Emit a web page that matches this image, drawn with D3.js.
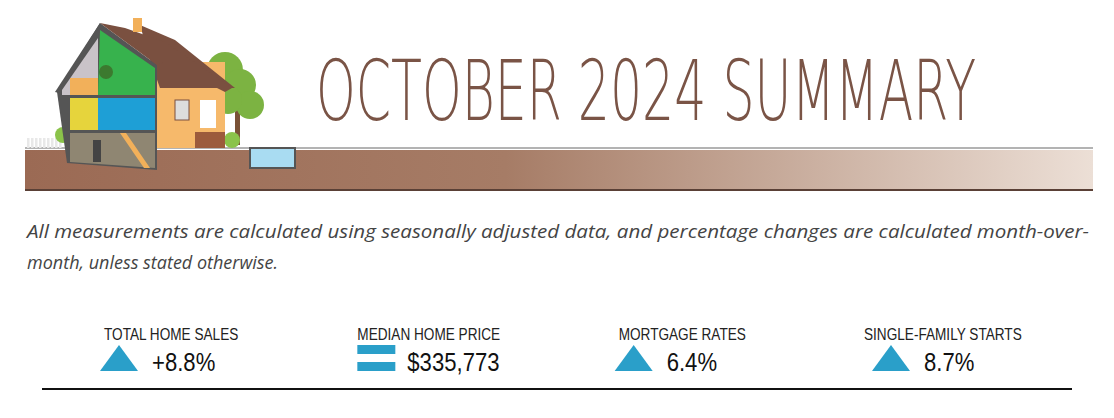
<!DOCTYPE html>
<html><head><meta charset="utf-8">
<script src="https://cdn.jsdelivr.net/npm/d3@7"></script>
<style>body{margin:0;background:#fff}</style>
</head><body><div id="chart"></div>
<script>
// summary values
var title = "OCTOBER 2024 SUMMARY";
var note = ["All measurements are calculated using seasonally adjusted data, and percentage changes are calculated month-over-",
            "month, unless stated otherwise."];
var labels = ["TOTAL HOME SALES", "MEDIAN HOME PRICE", "MORTGAGE RATES", "SINGLE-FAMILY STARTS"];
var values = ["+8.8%", "$335,773", "6.4%", "8.7%"];
var trend = ["up", "flat", "up", "up"];

var width = 1114, height = 418;
var svg = d3.select("#chart").append("svg").attr("width", width).attr("height", height);

// banner band
var grad = svg.append("defs").append("linearGradient").attr("id", "band");
grad.append("stop").attr("offset", "0%").attr("stop-color", "#9b6a54");
grad.append("stop").attr("offset", "45%").attr("stop-color", "#a67c66");
grad.append("stop").attr("offset", "100%").attr("stop-color", "#ecdfd6");
svg.append("rect").attr("x", 25).attr("y", 150).attr("width", 1068).attr("height", 40).attr("fill", "url(#band)");
svg.append("line").attr("x1", 25).attr("x2", 1093).attr("y1", 148).attr("y2", 148).attr("stroke", "#9a9a9a").attr("stroke-width", 1.5);
svg.append("line").attr("x1", 25).attr("x2", 1093).attr("y1", 190).attr("y2", 190).attr("stroke", "#5a4036").attr("stroke-width", 2);

// house illustration (rough)
var h = svg.append("g");
function poly(pts, fill) { h.append("polygon").attr("points", pts).attr("fill", fill); }
// tree
h.append("rect").attr("x", 235).attr("y", 90).attr("width", 5).attr("height", 55).attr("fill", "#7a5236");
[[225, 70, 18], [240, 85, 16], [250, 105, 14], [228, 100, 14], [218, 88, 12]].forEach(function(c) {
  h.append("circle").attr("cx", c[0]).attr("cy", c[1]).attr("r", c[2]).attr("fill", "#7cb342");
});
// fence + bushes
for (var i = 0; i < 9; i++) h.append("rect").attr("x", 27 + i * 4).attr("y", 138).attr("width", 2.5).attr("height", 10).attr("fill", "#e8e8e8");
h.append("circle").attr("cx", 63).attr("cy", 135).attr("r", 8).attr("fill", "#8bc34a");
h.append("circle").attr("cx", 232).attr("cy", 140).attr("r", 8).attr("fill", "#8bc34a");
// right wing
poly("155,62 225,62 225,148 155,148", "#f6b96b");
poly("140,25 175,40 235,88 160,88 150,60", "#7a5040");
h.append("rect").attr("x", 175).attr("y", 100).attr("width", 14).attr("height", 20).attr("fill", "#ddd").attr("stroke", "#7a5040");
h.append("rect").attr("x", 200).attr("y", 100).attr("width", 16).attr("height", 28).attr("fill", "#fff");
h.append("rect").attr("x", 195).attr("y", 132).attr("width", 30).attr("height", 16).attr("fill", "#9c5b3c");
// cutaway
poly("100,23 157,65 157,170 67,163 57,92", "#555");
poly("100,30 155,68 155,95 98,95", "#37b24d");
poly("62,90 98,38 98,95 62,95", "#c9c3c8");
h.append("rect").attr("x", 70).attr("y", 78).attr("width", 28).attr("height", 17).attr("fill", "#f2b05a");
h.append("rect").attr("x", 70).attr("y", 98).attr("width", 28).attr("height", 32).attr("fill", "#e6d43c");
h.append("rect").attr("x", 98).attr("y", 98).attr("width", 57).attr("height", 32).attr("fill", "#1e9fd6");
poly("70,133 155,133 155,168 70,162", "#8f8672");
poly("120,133 126,133 150,168 144,168", "#f2b05a");
h.append("rect").attr("x", 93).attr("y", 140).attr("width", 8).attr("height", 22).attr("fill", "#444");
h.append("circle").attr("cx", 106).attr("cy", 72).attr("r", 7).attr("fill", "#3c7a2f");
// main roof
poly("100,23 125,28 165,42 232,88 225,92 165,62 157,65", "#7a5040");
poly("100,23 55,92 59,93 100,32", "#555");
h.append("rect").attr("x", 133).attr("y", 18).attr("width", 9).attr("height", 14).attr("fill", "#f2b05a");
// pond
h.append("rect").attr("x", 250).attr("y", 148).attr("width", 45).attr("height", 20).attr("fill", "#a9dcf2").attr("stroke", "#555").attr("stroke-width", 2);

// title
svg.append("text").attr("x", 316).attr("y", 120).attr("textLength", 660).attr("lengthAdjust", "spacingAndGlyphs")
  .attr("font-family", "DejaVu Sans").attr("font-weight", 200).attr("font-size", 84).attr("fill", "#7a5446")
  .style("font-stretch", "condensed").text(title);

// note
svg.selectAll("text.note").data(note).join("text").attr("class", "note")
  .attr("x", 27).attr("y", function(d, i) { return 238 + i * 31; })
  .attr("font-family", "Open Sans").attr("font-style", "italic").attr("font-size", 18).attr("fill", "#444")
  .text(function(d) { return d; })
  .each(function(d, i) { if (i == 0) d3.select(this).attr("textLength", 1062).attr("lengthAdjust", "spacingAndGlyphs"); });

// KPI row
var x = d3.scalePoint().domain(labels).range([100, 872]);
var k = svg.selectAll("g.kpi").data(labels).join("g").attr("class", "kpi")
  .attr("transform", function(d) { return "translate(" + x(d) + ",0)"; });
k.append("text").attr("x", function(d, i) { return i == 1 ? 0 : i == 3 ? -8 : 4; }).attr("y", 340)
  .attr("font-family", "Liberation Sans Narrow, Liberation Sans").attr("font-size", 17).attr("fill", "#222")
  .text(function(d) { return d; })
  .each(function(d) { d3.select(this).attr("textLength", this.getComputedTextLength() * 0.8).attr("lengthAdjust", "spacingAndGlyphs"); });
k.each(function(d, i) {
  var g = d3.select(this);
  if (trend[i] == "up") g.append("polygon").attr("points", "0,371 19,345 38,371").attr("fill", "#2a9fc9");
  else {
    g.append("rect").attr("x", 0).attr("y", 345).attr("width", 38).attr("height", 9).attr("fill", "#2a9fc9");
    g.append("rect").attr("x", 0).attr("y", 362).attr("width", 38).attr("height", 9).attr("fill", "#2a9fc9");
  }
});
k.append("text").attr("x", function(d, i) { return i == 1 ? 50 : 52; }).attr("y", 371)
  .attr("font-family", "Liberation Sans Narrow, Liberation Sans").attr("font-size", 26).attr("fill", "#111")
  .text(function(d, i) { return values[i]; })
  .each(function(d) { d3.select(this).attr("textLength", this.getComputedTextLength() * 0.85).attr("lengthAdjust", "spacingAndGlyphs"); });

svg.append("line").attr("x1", 42).attr("x2", 1072).attr("y1", 389).attr("y2", 389).attr("stroke", "#111").attr("stroke-width", 2);
</script></body></html>
